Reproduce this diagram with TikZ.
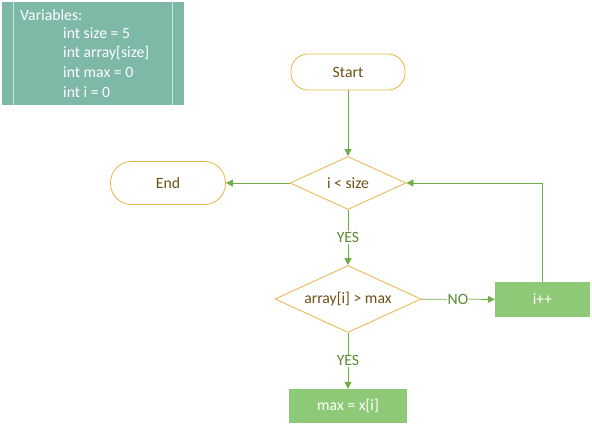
\documentclass[tikz,border=0pt]{standalone}
\usepackage{fontspec}
\setmainfont{Carlito}
\usetikzlibrary{shapes.geometric,arrows.meta}

\definecolor{flowgold}{RGB}{230,182,70}
\definecolor{flowgreen}{RGB}{112,173,71}
\definecolor{boxgreen}{RGB}{142,201,120}
\definecolor{vargreen}{RGB}{126,184,166}
\definecolor{varline}{RGB}{205,228,220}
\definecolor{textbrown}{RGB}{110,80,20}
\definecolor{labelgreen}{RGB}{90,140,50}

\tikzset{
	terminal/.style={draw=flowgold, line width=0.8pt, rounded corners=17pt, fill=white,
		text=textbrown, minimum width=115pt, minimum height=37pt, inner sep=0pt},
	decision/.style={draw=flowgold, line width=0.8pt, diamond, aspect=2.2, fill=white,
		text=textbrown, inner sep=0pt},
	process/.style={fill=boxgreen, text=white, minimum height=35pt, inner sep=0pt},
	flow/.style={draw=flowgreen, line width=0.8pt, -{Triangle[length=7pt,width=7pt]}},
	flowlabel/.style={fill=white, text=labelgreen, inner sep=1pt},
	varitem/.style={anchor=west, text=white, inner sep=0pt}
}

\begin{document}
\begin{tikzpicture}[x=1pt, y=-1pt, font=\fontsize{15.7}{18}\selectfont]
	\useasboundingbox (0,0) rectangle (592,426);

	%variables box
	\fill[vargreen] (2,2) rectangle (184,105);
	\draw[varline, line width=1pt] (13,2) -- (13,105);
	\draw[varline, line width=1pt] (172,2) -- (172,105);
	\node[varitem] (vartitle) at (20,15) {Variables:};
	\node[varitem] (varsize) at (63,33) {int size = 5};
	\node[varitem] (vararray) at (63,53) {int array[size]};
	\node[varitem] (varmax) at (63,72) {int max = 0};
	\node[varitem] (vari) at (63,92) {int i = 0};

	%flow chart
	\node[terminal, minimum width=114pt, minimum height=36pt] (start) at (348,72) {Start};
	\node[decision, minimum width=116pt, minimum height=53pt] (loop) at (348,183) {i < size};
	\node[terminal, minimum height=43pt, rounded corners=21pt] (end) at (168,183) {End};
	\node[decision, minimum width=146pt, minimum height=67pt] (check) at (348,299) {array[i] > max};
	\node[process, minimum width=95pt] (incr) at (542.5,299.5) {i++};
	\node[process, minimum width=118pt, minimum height=34pt] (update) at (348,406) {max = x[i]};

	%connectors
	\draw[flow] (start) -- (loop);
	\draw[flow] (loop) -- (end);
	\draw[flow] (loop) -- node[flowlabel] {YES} (check);
	\draw[flow] (check) -- node[flowlabel] {NO} (incr);
	\draw[flow] (check) -- node[flowlabel] {YES} (update);
	\draw[flow] (incr.north) |- (loop.east);
\end{tikzpicture}
\end{document}
